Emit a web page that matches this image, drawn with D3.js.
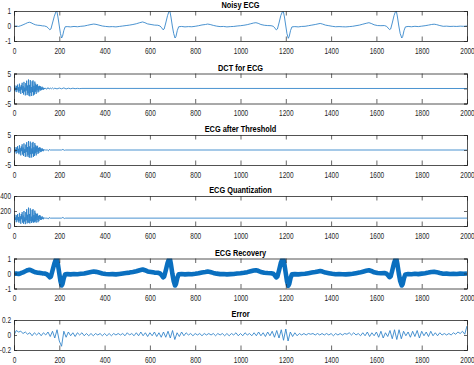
<!DOCTYPE html>
<html><head><meta charset="utf-8">
<script src="https://cdn.jsdelivr.net/npm/d3@7"></script>
<style>html,body{margin:0;padding:0;background:#fff;}svg{display:block;}</style>
</head><body>
<svg id="c" width="474" height="365"></svg>
<script>
// ---------- DATA ----------
const titles = ["Noisy ECG", "DCT for ECG", "ECG after Threshold", "ECG Quantization", "ECG Recovery", "Error"];
const xTicks = [0, 200, 400, 600, 800, 1000, 1200, 1400, 1600, 1800, 2000];
const yDomains = [[-1, 1], [-5, 5], [-5, 5], [0, 400], [-1, 1], [-0.2, 0.2]];
const yTicks = [[-1, 0, 1], [-5, 0, 5], [-5, 0, 5], [0, 200, 400], [-1, 0, 1], [-0.2, 0, 0.2]];
const yTickLabels = [["-1", "0", "1"], ["-5", "0", "5"], ["-5", "0", "5"], ["0", "200", "400"], ["-1", "0", "1"], ["-0.2", "0", "0.2"]];

// Noisy ECG (sample index, amplitude)
const ecgX = [0,10,20,30,40,50,60,68,75,85,95,105,115,125,135,145,152,158,163,170,178,185,189,194,200,205,210,214,220,226,235,250,265,280,295,310,325,340,352,362,375,390,405,420,435,450,465,480,495,510,525,540,555,568,578,590,605,620,635,645,652,658,663,670,678,684,688,693,699,705,711,715,721,727,740,755,770,785,800,815,830,845,855,866,880,895,910,925,940,955,970,985,1000,1015,1030,1045,1058,1068,1078,1090,1105,1120,1135,1145,1152,1158,1163,1170,1178,1185,1189,1194,1200,1205,1211,1215,1221,1227,1240,1255,1270,1285,1300,1315,1330,1342,1352,1362,1375,1390,1405,1420,1435,1450,1465,1480,1495,1510,1525,1540,1555,1567,1577,1590,1605,1620,1635,1645,1652,1658,1663,1670,1678,1684,1688,1693,1699,1705,1712,1716,1722,1728,1740,1755,1770,1785,1800,1815,1830,1843,1855,1866,1880,1895,1910,1925,1940,1955,1970,1985,2000];
const ecgY = [-0.02,0.0,-0.03,0.02,0.08,0.15,0.22,0.25,0.22,0.14,0.08,0.05,0.04,0.01,0.0,-0.05,-0.15,-0.25,-0.2,0.2,0.65,0.95,1.0,0.6,0.0,-0.5,-0.8,-0.7,-0.3,-0.05,-0.04,-0.06,-0.03,-0.05,-0.02,0.0,0.05,0.1,0.13,0.11,0.06,0.0,-0.03,-0.05,-0.04,-0.06,-0.03,0.0,0.03,0.06,0.1,0.15,0.22,0.27,0.22,0.14,0.1,0.06,0.05,0.0,-0.12,-0.25,-0.2,0.2,0.7,0.95,1.0,0.6,0.0,-0.5,-0.8,-0.7,-0.3,-0.05,-0.03,-0.06,-0.04,-0.05,-0.02,0.02,0.07,0.1,0.13,0.1,0.04,-0.01,-0.04,-0.03,-0.06,-0.04,-0.03,0.0,0.02,0.05,0.09,0.15,0.2,0.22,0.18,0.1,0.05,0.03,0.02,-0.02,-0.14,-0.26,-0.2,0.2,0.7,0.95,0.98,0.6,0.0,-0.5,-0.82,-0.7,-0.3,-0.06,-0.04,-0.06,-0.03,-0.02,0.02,0.06,0.1,0.14,0.17,0.13,0.06,0.02,-0.02,-0.05,-0.04,-0.05,-0.06,-0.04,-0.02,0.02,0.06,0.12,0.18,0.22,0.17,0.08,0.03,0.02,0.03,-0.02,-0.14,-0.24,-0.2,0.2,0.7,0.95,1.0,0.6,0.0,-0.5,-0.8,-0.7,-0.3,-0.06,-0.03,-0.05,-0.02,-0.04,-0.01,0.02,0.06,0.1,0.12,0.09,0.03,-0.02,-0.01,-0.03,-0.02,-0.03,-0.01,-0.02,0.0];

// DCT coefficients
const dctX = [0,2,4,6,8,10,12,14,16,18,20,22,24,26,28,30,32,34,36,38,40,42,44,46,48,50,52,54,56,58,60,62,64,66,68,70,72,74,76,78,80,82,84,86,88,90,92,94,96,98,100,102,104,106,108,110,112,114,116,118,120,122,124,126,128,130,132,134,136,138,140,145,150,155,160,165,170,175,180,190,200,210,220,230,240,250,260,270,280,290,300,2000];
const dctY = [0.5,-0.8,1.0,-0.6,0.3,-1.2,0.9,-0.5,1.3,-1.0,0.4,-1.4,1.6,-0.8,0.6,-1.8,1.2,-0.4,1.9,-1.5,0.8,-2.0,2.2,-1.0,0.3,-2.3,1.8,-0.7,2.6,-2.2,1.0,-1.6,3.0,-2.4,1.2,-2.6,2.8,-1.4,0.5,-2.5,2.4,-1.2,2.7,-2.3,0.9,-2.0,2.3,-1.1,1.6,-1.8,1.2,-0.6,1.4,-1.3,0.7,-1.0,0.9,-0.4,0.8,-0.7,0.4,-0.5,0.6,-0.3,0.3,-0.4,0.2,-0.2,0.15,-0.1,0.1,-0.25,0.3,-0.2,0.15,-0.1,0.2,-0.15,0.1,-0.12,0.15,-0.1,0.2,-0.15,0.1,-0.08,0.1,-0.06,0.05,-0.04,0.03,0.0];

// Thresholded DCT
const thrX = [0,2,4,6,8,10,12,14,16,18,20,22,24,26,28,30,32,34,36,38,40,42,44,46,48,50,52,54,56,58,60,62,64,66,68,70,72,74,76,78,80,82,84,86,88,90,92,94,96,98,100,102,104,106,108,110,112,114,116,118,120,122,124,126,128,130,132,134,140,148,152,156,160,210,216,222,228,2000];
const thrY = [0.5,-0.8,1.0,-0.6,0.3,-1.2,0.9,-0.5,1.3,-1.0,0.4,-1.4,1.6,-0.8,0.6,-1.8,1.2,-0.4,1.9,-1.5,0.8,-2.0,2.2,-1.0,0.3,-2.3,1.8,-0.7,2.6,-2.2,1.0,-1.6,3.0,-2.4,1.2,-2.6,2.8,-1.4,0.5,-2.5,2.4,-1.2,2.7,-2.3,0.9,-2.0,2.3,-1.1,1.6,-1.8,1.2,-0.6,1.4,-1.3,0.7,-1.0,0.9,-0.4,0.8,-0.7,0.4,-0.5,0.6,-0.3,0.3,-0.4,0.2,0,0,0,-0.3,0.2,0,0,0.2,-0.1,0,0];

// Quantized coefficients
const quantX = [0,2,4,6,8,10,12,14,16,18,20,22,24,26,28,30,32,34,36,38,40,42,44,46,48,50,52,54,56,58,60,62,64,66,68,70,72,74,76,78,80,82,84,86,88,90,92,94,96,98,100,102,104,106,108,110,112,114,116,118,120,122,124,126,128,130,132,134,140,148,152,156,160,210,216,222,228,2000];
const quantY = [125,70,150,80,115,50,145,80,160,60,120,45,175,70,130,30,160,90,185,45,140,30,200,60,115,25,185,75,225,35,150,50,245,40,160,35,235,65,125,40,215,60,225,45,145,50,205,60,175,45,160,80,165,50,135,65,145,90,140,80,120,85,130,95,115,90,112,105,105,105,92,115,105,105,115,100,105,105];

// Reconstructed ECG (drawn from the recovered samples)
const recX = ecgX;
const recY = ecgY;

// Error between noisy and recovered ECG (every 10 samples)
const errY = [0.0,0.06,0.04,0.05,0.02,0.04,0.01,0.03,-0.01,0.03,0.0,0.03,-0.01,0.03,0.0,0.04,-0.02,0.05,-0.04,0.07,-0.08,-0.15,0.05,-0.03,0.04,-0.01,0.03,-0.02,0.03,0.0,0.03,-0.01,0.02,-0.01,0.02,-0.01,0.02,0.0,0.02,-0.01,0.02,-0.01,0.02,-0.01,0.02,0.0,0.02,0.0,0.02,-0.01,0.03,0.0,0.02,-0.01,0.03,-0.01,0.04,-0.01,0.03,-0.02,0.03,-0.01,0.04,-0.02,0.03,-0.03,0.04,-0.03,0.05,-0.04,0.06,-0.06,0.03,-0.02,0.04,-0.01,0.03,0.0,0.02,-0.01,0.02,0.0,0.02,-0.01,0.02,0.0,0.02,0.0,0.02,-0.01,0.02,0.0,0.02,-0.01,0.02,-0.01,0.02,0.0,0.03,-0.01,0.02,-0.01,0.03,0.0,0.02,-0.01,0.03,-0.01,0.04,-0.01,0.03,-0.02,0.04,-0.01,0.05,-0.03,0.06,-0.04,0.07,-0.07,0.08,-0.08,0.04,-0.02,0.03,-0.01,0.02,0.0,0.02,0.0,0.02,0.01,0.02,0.0,0.02,0.0,0.02,0.0,0.02,0.0,0.02,-0.01,0.02,0.0,0.02,0.0,0.02,0.01,0.03,0.0,0.03,0.0,0.02,-0.01,0.03,-0.01,0.04,-0.02,0.03,-0.01,0.04,-0.03,0.05,-0.04,0.03,-0.02,0.06,-0.05,0.07,-0.06,0.07,-0.05,0.05,-0.01,0.04,-0.03,0.05,-0.02,0.06,-0.04,0.05,-0.01,0.04,-0.02,0.05,-0.01,0.03,-0.01,0.03,0.0,0.02,0.0,0.02,0.0,0.03,0.01,0.04,0.02,0.05,0.01,0.12];
const errX = errY.map((_, i) => i * 10);

const seriesX = [ecgX, dctX, thrX, quantX, recX, errX];
const seriesY = [ecgY, dctY, thrY, quantY, recY, errY];

// ---------- LAYOUT ----------
const left = 14, right = 467, panelH = 30;
const tops = [11, 73.5, 135, 196, 258.5, 320];
const lineColor = "#2a80c8";
const colors = [lineColor, lineColor, lineColor, lineColor, "#0a6fbf", lineColor];
const widths = [0.85, 0.85, 0.85, 0.85, 4.6, 0.85];
const font = "'Liberation Sans',Arial,sans-serif";
const sx = 0.78;

const svg = d3.select("#c");
const x = d3.scaleLinear().domain([0, 2000]).range([left, right]);

titles.forEach((t, i) => {
  const top = tops[i], bottom = top + panelH;
  const y = d3.scaleLinear().domain(yDomains[i]).range([bottom, top]);
  const g = svg.append("g");

  g.append("clipPath").attr("id", "clip" + i)
    .append("rect").attr("x", left).attr("y", top).attr("width", right - left).attr("height", panelH);

  const pts = seriesX[i].map((v, k) => [v, seriesY[i][k]]);
  g.append("path")
    .datum(pts)
    .attr("clip-path", "url(#clip" + i + ")")
    .attr("fill", "none")
    .attr("stroke", colors[i])
    .attr("stroke-width", widths[i])
    .attr("stroke-linejoin", "round")
    .attr("d", d3.line().x(d => x(d[0])).y(d => y(d[1])));

  const axB = d3.axisBottom(x).tickValues(xTicks).tickSize(-4.5).tickPadding(7).tickFormat(d3.format("d"));
  const axT = d3.axisTop(x).tickValues(xTicks).tickSize(-4.5).tickFormat("");
  const axL = d3.axisLeft(y).tickValues(yTicks[i]).tickSize(-3).tickPadding(4)
    .tickFormat((d, k) => yTickLabels[i][k]);
  const axR = d3.axisRight(y).tickValues(yTicks[i]).tickSize(-3).tickFormat("");

  const gb = g.append("g").attr("transform", `translate(0,${bottom})`).call(axB);
  const gt = g.append("g").attr("transform", `translate(0,${top})`).call(axT);
  const gl = g.append("g").attr("transform", `translate(${left},0)`).call(axL);
  const gr = g.append("g").attr("transform", `translate(${right},0)`).call(axR);
  [gb, gt, gl, gr].forEach(a => {
    a.selectAll("path.domain").attr("stroke", "#262626").attr("stroke-width", 0.8);
    a.selectAll(".tick line").attr("stroke", "#262626").attr("stroke-width", 0.7);
    a.selectAll("text").attr("font-family", font).attr("font-size", 8.3).attr("fill", "#262626")
      .attr("transform", `scale(${sx},1)`);
  });
  gl.selectAll("text").attr("x", -3 / sx);

  g.append("g")
    .attr("transform", `translate(${(left + right) / 2},${top - 3}) scale(0.82,1)`)
    .append("text")
    .attr("text-anchor", "middle")
    .attr("font-family", font)
    .attr("font-weight", "bold")
    .attr("font-size", 9)
    .attr("fill", "#000")
    .text(t);
});
</script>
</body></html>
